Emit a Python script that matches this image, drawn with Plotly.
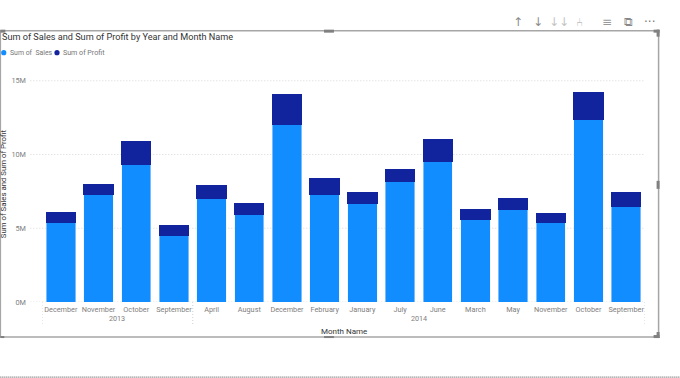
import plotly.graph_objects as go

years = ["2013"] * 4 + ["2014"] * 12
months = ["December", "November", "October", "September", "April", "August", "December", "February",
          "January", "July", "June", "March", "May", "November", "October", "September"]
sales = [5.4, 7.3, 9.35, 4.5, 7.0, 5.9, 12.05, 7.3, 6.65, 8.15, 9.55, 5.6, 6.25, 5.4, 12.4, 6.45]
profit = [0.64, 0.7, 1.55, 0.7, 0.87, 0.75, 2.0, 1.1, 0.75, 0.85, 1.45, 0.65, 0.8, 0.6, 1.8, 0.95]
y_ticks = [0, 5, 10, 15]
y_labels = ["0M", "5M", "10M", "15M"]
SALES_C, PROFIT_C = "#118DFF", "#12239E"
FONT = "Roboto"
W, H = 680, 378
L, R, T, B = 41.7, 34.6, 66.3, 76

keys = [f"{y} {m}" for y, m in zip(years, months)]

fig = go.Figure()
fig.add_bar(x=keys, y=sales, name="Sum of  Sales", marker_color=SALES_C, showlegend=False)
fig.add_bar(x=keys, y=profit, name="Sum of Profit", marker_color=PROFIT_C,
            marker_line=dict(color=PROFIT_C, width=1), showlegend=False)

px = lambda v: (v - L) / (W - L - R)
py = lambda v: 1 - (v - T) / (H - T - B)

DOT = "1px,2px"
shapes = []
for t in y_ticks:
    shapes.append(dict(type="line", xref="paper", yref="y", x0=px(30), x1=1, y0=t, y1=t,
                       line=dict(color="#d8d8d8", width=1, dash=DOT), layer="below"))
# year dividers below the axis
for d in [-0.5, 3.5, 15.5]:
    shapes.append(dict(type="line", xref="x", yref="paper", x0=d, x1=d, y0=py(324), y1=py(302),
                       line=dict(color="#cfcfcf", width=1, dash=DOT), layer="above"))
# visual frame
shapes.append(dict(type="rect", xref="paper", yref="paper", x0=px(0), x1=px(659), y0=py(337), y1=py(31),
                   line=dict(color="#a6a6a6", width=1.5)))
# frame handles
for a, b, c, d in [(0, 5, 30, 33), (324, 334, 30, 33), (654, 660, 30, 33), (657, 660, 30, 37),
                   (0, 4, 336, 338), (324, 334, 336, 338), (654, 660, 335, 338), (657, 660, 332, 338),
                   (657, 660, 181, 189)]:
    shapes.append(dict(type="rect", xref="paper", yref="paper", x0=px(a), x1=px(b), y0=py(d), y1=py(c),
                       fillcolor="#808080", line_width=0))
# legend dots
for cx, col in [(3.4, SALES_C), (56.7, PROFIT_C)]:
    shapes.append(dict(type="circle", xref="paper", yref="paper", x0=px(cx - 2.6), x1=px(cx + 2.6),
                       y0=py(55.6), y1=py(50.4), fillcolor=col, line_width=0))
# page divider at the bottom
shapes.append(dict(type="line", xref="paper", yref="paper", x0=px(0), x1=px(680), y0=py(377), y1=py(377),
                   line=dict(color="#444444", width=1, dash="1px,1px")))

annots = [
    dict(text="Sum of Sales and Sum of Profit by Year and Month Name", x=px(0), y=py(37), xanchor="left",
         font=dict(size=9.15, color="#333333")),
    dict(text="Sum of  Sales", x=px(7.3), y=py(53), xanchor="left", font=dict(size=6.9, color="#777777")),
    dict(text="Sum of Profit", x=px(61), y=py(53), xanchor="left", font=dict(size=7.1, color="#777777")),
    dict(text="Sum of Sales and Sum of Profit", x=px(4), y=py(184), textangle=-90, font=dict(size=7.8, color="#333333")),
    dict(text="Month Name", x=px(344), y=py(331), font=dict(size=8, color="#333333")),
]
for gx, gl, col in [(518, "↑", "#8a8a8a"), (538, "↓", "#8a8a8a"), (559, "↓↓", "#c4c4c4"), (580, "⑃", "#c4c4c4"),
                    (607, "≡", "#999999"), (629, "⧉", "#888888"), (650, "···", "#777777")]:
    annots.append(dict(text=gl, x=px(gx), y=py(22), font=dict(size=12, color=col, family="DejaVu Sans")))
for a in annots:
    a.update(xref="paper", yref="paper", showarrow=False, yanchor="middle")
    a.setdefault("xanchor", "center")
    a["font"].setdefault("family", FONT)
# year group labels, centred under their months
for yr in sorted(set(years)):
    idx = [i for i, v in enumerate(years) if v == yr]
    annots.append(dict(text=yr, xref="x", yref="paper", x=(idx[0] + idx[-1]) / 2, y=py(318), showarrow=False,
                       xanchor="center", yanchor="middle", font=dict(size=7.2, color="#808080", family=FONT)))

fig.update_layout(
    width=W, height=H, autosize=False, barmode="stack", bargap=0.22,
    margin=dict(l=L, r=R, t=T, b=B, pad=0), paper_bgcolor="white", plot_bgcolor="white",
    font=dict(family=FONT, size=7, color="#777777"), shapes=shapes, annotations=annots,
    xaxis=dict(type="category", categoryorder="array", categoryarray=keys, tickmode="array", tickvals=keys,
               ticktext=months, tickangle=0, range=[-0.5, 15.5], showgrid=False, zeroline=False, showline=False,
               ticks="", ticklabelstandoff=2, tickfont=dict(size=7.3, color="#808080")),
    yaxis=dict(range=[0, 16], tickvals=y_ticks, ticktext=y_labels, showgrid=False, zeroline=False,
               showline=False, ticks="", ticklabelstandoff=15, tickfont=dict(size=7.3, color="#808080")),
)
fig.write_html("out.html", config={"displayModeBar": False},
               post_script="document.body.style.margin='0';")
